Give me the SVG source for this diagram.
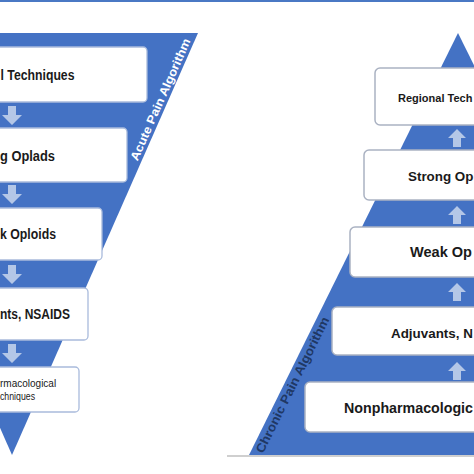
<svg xmlns="http://www.w3.org/2000/svg" xmlns:xlink="http://www.w3.org/1999/xlink" width="474" height="474" viewBox="0 0 474 474">
  <style>
    .tri { fill: #4472c4; }
    .boxL { fill: #ffffff; stroke: #a9bbdc; stroke-width: 1.3; }
    .boxR { fill: #ffffff; stroke: #aab2c2; stroke-width: 1.5; }
    .arr { fill: #b4c7e7; }
    .t { font-family: "Liberation Sans", Arial, sans-serif; font-weight: bold; fill: #1a1a1a; }
    .ts { font-family: "Liberation Sans", Arial, sans-serif; font-weight: normal; fill: #1a1a1a; font-size: 10px; }
    .acute { font-family: "Liberation Sans", Arial, sans-serif; font-weight: bold; fill: #ffffff; font-size: 12px; }
    .chronic { font-family: "Liberation Sans", Arial, sans-serif; font-weight: bold; fill: #1f3864; font-size: 12.5px; }
  </style>
  <defs>
    <path id="dn" d="M-4,0 H4 V9 H10 L0,19 L-10,9 H-4 Z"/>
    <path id="up" d="M0,0 L9,9 H4 V18 H-4 V9 H-9 Z"/>
  </defs>
  <rect width="474" height="474" fill="#ffffff"/>
  <line x1="0" y1="1" x2="474" y2="1" stroke="#4a78c4" stroke-width="2"/>

  <!-- Left: acute pain (inverted triangle) -->
  <polygon class="tri" points="-174,33 198,33 12,455"/>
  <text class="acute" transform="translate(137.5,161.5) rotate(-66.2)" textLength="132" lengthAdjust="spacingAndGlyphs">Acute Pain Algorithm</text>

  <!-- Right: chronic pain (pyramid) -->
  <line x1="227" y1="456" x2="474" y2="456" stroke="#bfbfbf" stroke-width="1.5"/>
  <polygon class="tri" points="458,33 249,455 667,455"/>
  <text class="chronic" transform="translate(263,454) rotate(-63.65)" textLength="150" lengthAdjust="spacingAndGlyphs">Chronic Pain Algorithm</text>

  <g id="connectors">
    <use href="#dn" xlink:href="#dn" class="arr" x="12" y="106"/>
    <use href="#dn" xlink:href="#dn" class="arr" x="12" y="185"/>
    <use href="#dn" xlink:href="#dn" class="arr" x="12" y="265"/>
    <use href="#dn" xlink:href="#dn" class="arr" x="12" y="344"/>
    <use href="#up" xlink:href="#up" class="arr" x="457" y="129"/>
    <use href="#up" xlink:href="#up" class="arr" x="457" y="206"/>
    <use href="#up" xlink:href="#up" class="arr" x="457" y="283"/>
    <use href="#up" xlink:href="#up" class="arr" x="457" y="362"/>
  </g>

  <g id="acute-regional">
    <rect class="boxL" x="-123" y="47" width="270" height="55" rx="4"/>
    <text class="t" x="0.5" y="79.5" font-size="14.5" textLength="74" lengthAdjust="spacingAndGlyphs">l Techniques</text>
  </g>
  <g id="acute-strong">
    <rect class="boxL" x="-103" y="128" width="230" height="54" rx="4"/>
    <text class="t" x="0" y="161" font-size="14" textLength="55" lengthAdjust="spacingAndGlyphs">g Oplads</text>
  </g>
  <g id="acute-weak">
    <rect class="boxL" x="-78" y="208" width="180" height="52" rx="4"/>
    <text class="t" x="0" y="239" font-size="14" textLength="56" lengthAdjust="spacingAndGlyphs">k Oploids</text>
  </g>
  <g id="acute-adjuvants">
    <rect class="boxL" x="-64" y="288" width="152" height="52" rx="4"/>
    <text class="t" x="0" y="318.5" font-size="14" textLength="70" lengthAdjust="spacingAndGlyphs">nts, NSAIDS</text>
  </g>
  <g id="acute-nonpharm">
    <rect class="boxL" x="-55" y="367" width="134" height="45" rx="4"/>
    <text class="ts" x="0" y="387">rmacological</text>
    <text class="ts" x="0" y="400" textLength="35" lengthAdjust="spacingAndGlyphs">chniques</text>
  </g>

  <g id="chronic-regional">
    <rect class="boxR" x="375" y="68" width="166" height="57" rx="5"/>
    <text class="t" x="398" y="102" font-size="11">Regional Tech</text>
  </g>
  <g id="chronic-strong">
    <rect class="boxR" x="364" y="150" width="188" height="50" rx="5"/>
    <text class="t" x="408" y="181" font-size="13.4">Strong Op</text>
  </g>
  <g id="chronic-weak">
    <rect class="boxR" x="350" y="227" width="216" height="50" rx="5"/>
    <text class="t" x="410" y="257" font-size="14.5" textLength="62" lengthAdjust="spacingAndGlyphs">Weak Op</text>
  </g>
  <g id="chronic-adjuvants">
    <rect class="boxR" x="332" y="307" width="252" height="48" rx="5"/>
    <text class="t" x="391" y="338" font-size="13.4">Adjuvants, N</text>
  </g>
  <g id="chronic-nonpharm">
    <rect class="boxR" x="305" y="382" width="306" height="50" rx="5"/>
    <text class="t" x="344" y="413" font-size="14.5" textLength="129" lengthAdjust="spacingAndGlyphs">Nonpharmacologic</text>
  </g>
</svg>
